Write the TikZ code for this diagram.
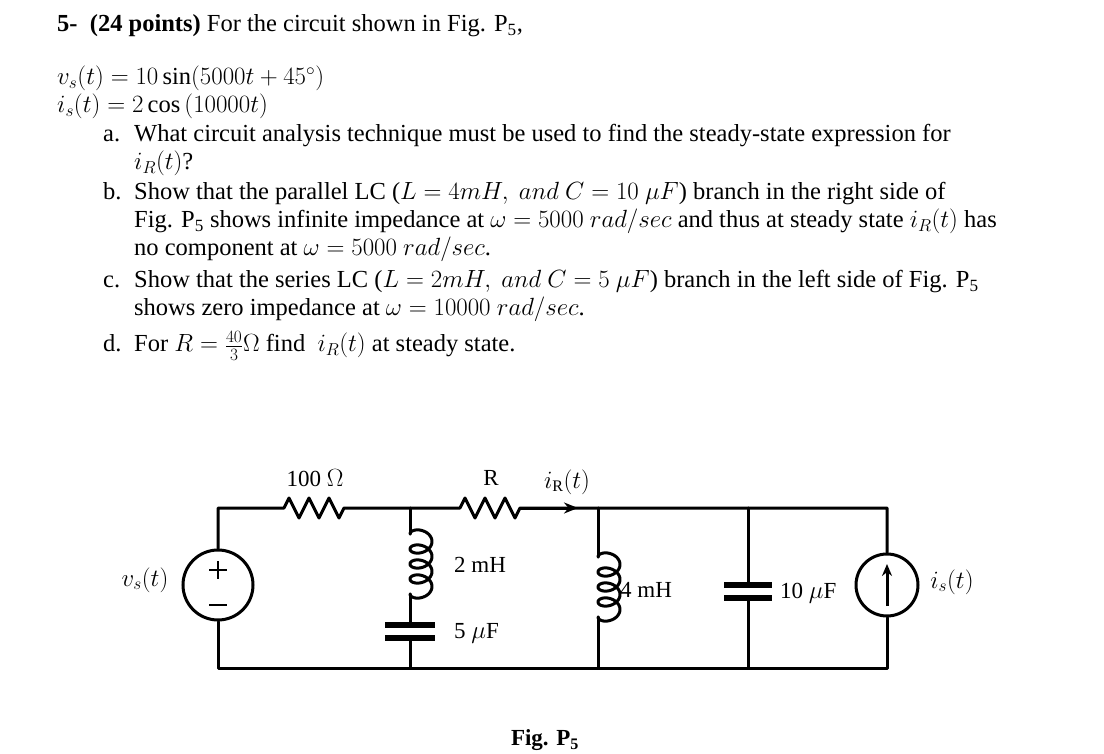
\documentclass[tikz,border=0pt]{standalone}
\usepackage{fontspec}
\setmainfont{Liberation Serif}
\usetikzlibrary{arrows.meta}
\begin{document}
\begin{tikzpicture}[x=1pt,y=-1pt,
  w/.style={line width=3pt,line cap=round,line join=round},
  t/.style={anchor=base west,inner sep=0pt,font=\fontsize{24.5}{28}\selectfont},
  l/.style={inner sep=0pt,font=\fontsize{23}{26}\selectfont}]
\useasboundingbox (0,0) rectangle (1104,754);
% text
\node[t] (t0) at (57,32) {\textbf{5-\ \ (24 points)} For the circuit shown in Fig. P\textsubscript{5},};
\node[t] (t1) at (57,85) {$v_s(t)=10\sin(5000t+45^\circ)$};
\node[t] (t2) at (57,113) {$i_s(t)=2\cos{}(10000t)$};
\node[t] (ta) at (103,142) {a.};
\node[t] (ta1) at (134,142) {What circuit analysis technique must be used to find the steady-state expression for};
\node[t] (ta2) at (134,170) {$i_R(t)$?};
\node[t] (tb) at (103,200) {b.};
\node[t] (tb1) at (134,200) {Show that the parallel LC ($L=4mH,\ and\ C=10\ \mu F$) branch in the right side of};
\node[t] (tb2) at (134,228) {Fig. P\textsubscript{5} shows infinite impedance at $\omega=5000\ rad/sec$ and thus at steady state $i_R(t)$ has};
\node[t] (tb3) at (134,256) {no component at $\omega=5000\ rad/sec$.};
\node[t] (tc) at (103,288) {c.};
\node[t] (tc1) at (134,288) {Show that the series LC ($L=2mH,\ and\ C=5\ \mu F$) branch in the left side of Fig. P\textsubscript{5}};
\node[t] (tc2) at (134,316) {shows zero impedance at $\omega=10000\ rad/sec$.};
\node[t] (td) at (103,352) {d.};
\node[t] (td1) at (134,352) {For $R=\frac{40}{3}\Omega$ find\ \ $i_R(t)$ at steady state.};
\node[l,font=\bfseries\fontsize{23}{26}\selectfont] (fig) at (545,740) {Fig. P\textsubscript{5}};
% nodes / coordinates
\coordinate (tl) at (218,508); \coordinate (bl) at (218,668);
\coordinate (j1) at (410,508); \coordinate (j1b) at (410,668);
\coordinate (j2) at (598,508); \coordinate (j2b) at (598,668);
\coordinate (j3) at (748,508); \coordinate (j3b) at (748,668);
\coordinate (tr) at (887,508); \coordinate (br) at (887,668);
\node[circle,draw,line width=3pt,minimum size=70pt,inner sep=0pt] (vs) at (218,585) {};
\node[circle,draw,line width=3pt,minimum size=62pt,inner sep=0pt] (is) at (887,585) {};
\draw[w] (vs.north) -- (tl) -- (284,508) -- (289,498) -- (299,518) -- (309,498) -- (319,518) -- (329,498) -- (339,518) -- (344,508) -- (j1)
  -- (460,508) -- (465,498) -- (475,518) -- (485,498) -- (495,518) -- (505,498) -- (515,518) -- (520,508) -- (j2) -- (j3) -- (tr) -- (is.north);
\draw[w] (vs.south) -- (bl) -- (j1b) -- (j2b) -- (j3b) -- (br) -- (is.south);
\draw[line width=3pt,-{Stealth[length=14pt,width=11pt]}] (520,508) -- (578,508);
% +/-
\draw[line width=2.4pt] (209,570)--(227,570) (218,561)--(218,579) (209,605)--(227,605);
% 2mH inductor + 5uF
\draw[w] (j1) -- (410,534);
\draw[w] plot[domain=0:1440,samples=140,smooth] ({410+11*(1-cos(\x))},{534+\x/24-7.5*sin(\x)});
\draw[w] (410,594) -- (410,624);
\draw[line width=5.5pt] (385,625)--(435,625) (385,638)--(435,638);
\draw[w] (410,639) -- (j1b);
% 4mH
\draw[w] (j2) -- (598,557);
\draw[w] plot[domain=0:1440,samples=140,smooth] ({598+11*(1-cos(\x))},{557+\x/24-7.5*sin(\x)});
\draw[w] (598,617) -- (j2b);
% 10uF
\draw[w] (j3) -- (748,584);
\draw[line width=5.5pt] (724,585)--(772,585) (724,598)--(772,598);
\draw[w] (748,599) -- (j3b);
% current source arrow
\draw[line width=3pt,-{Stealth[length=12pt,width=10pt]}] (887,606) -- (887,564);
% labels
\node[l] (l1) at (315,478) {100 $\Omega$};
\node[l] (l2) at (491,478) {R};
\node[l] (l3) at (567,482) {$i_{\mathrm{R}}(t)$};
\node[l,anchor=west] (l4) at (454,565) {2 mH};
\node[l,anchor=west] (l5) at (454,633) {5 $\mu$F};
\node[l,anchor=west] (l6) at (620,590) {4 mH};
\node[l,anchor=west] (l7) at (780,593) {10 $\mu$F};
\node[l] (l8) at (145,580) {$v_s(t)$};
\node[l] (l9) at (952,582) {$i_s(t)$};
\end{tikzpicture}
\end{document}
